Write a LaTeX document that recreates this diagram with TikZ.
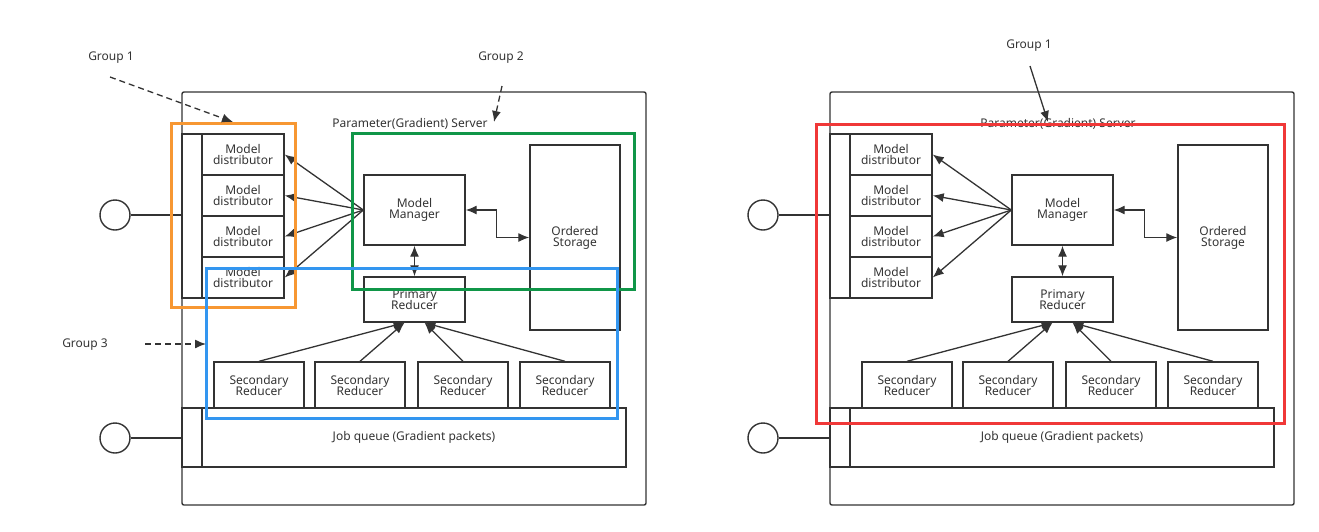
\documentclass[tikz,border=0pt]{standalone}
\usepackage{fontspec}
\setmainfont{Noto Sans}
\usetikzlibrary{arrows.meta}
\begin{document}
\begin{tikzpicture}[x=1pt,y=-1pt,
  bx/.style={draw=black!80,line width=1.4pt,inner sep=0pt,font=\fontsize{12}{14}\selectfont,align=center,text=black!80},
  ar/.style={draw=black!80,line width=1.3pt,-{Latex[length=11pt,width=9pt]}},
  dar/.style={draw=black!80,line width=1.3pt,{Latex[length=11pt,width=9pt]}-{Latex[length=11pt,width=9pt]}},
  lab/.style={font=\bfseries\fontsize{12}{14}\selectfont,text=black!80},
  grp/.style={line width=3pt},
  server/.pic={
    \node[bx,rounded corners=2pt,minimum width=464pt,minimum height=413pt] (-out) at (232,298.5) {};
    \node[bx,minimum width=20pt,minimum height=164pt] (-strip) at (10,216) {};
    \foreach \i/\yy in {1/154.5,2/195.5,3/236.5,4/277.5}
      \node[bx,minimum width=82pt,minimum height=41pt] (-d\i) at (61,\yy) {Model\\[-3pt]distributor};
    \node[bx,minimum width=20pt,minimum height=59pt] (-qs) at (10,437.5) {};
    \node[bx,minimum width=424pt,minimum height=59pt] (-q) at (232,437.5) {Job queue (Gradient packets)};
    \node[bx,circle,minimum size=30pt] (-c1) at (-67,215) {};
    \node[bx,circle,minimum size=30pt] (-c2) at (-67,438) {};
    \draw[black!80,line width=1.4pt] (-c1) -- (-strip.west |- -c1);
    \draw[black!80,line width=1.4pt] (-c2) -- (-qs.west |- -c2);
    \node[bx,minimum width=101pt,minimum height=70pt] (-mm) at (232.5,210) {Model\\[-3pt]Manager};
    \node[bx,minimum width=90pt,minimum height=185pt] (-os) at (393,237.5) {Ordered\\[-3pt]Storage};
    \node[bx,minimum width=101pt,minimum height=45pt] (-pr) at (232.5,299.5) {Primary\\[-3pt]Reducer};
    \foreach \i/\xx in {1/77,2/178,3/281,4/383}
      \node[bx,minimum width=90pt,minimum height=46pt] (-s\i) at (\xx,385) {Secondary\\[-3pt]Reducer};
    \node[font=\fontsize{12}{14}\selectfont,text=black!80] (-title) at (228,124) {Parameter(Gradient) Server};
    \foreach \i in {1,2,3,4} \draw[ar] (-mm.west) -- (-d\i.east);
    \draw[dar] (-mm.east) -- ++(31,0) |- (-os.west);
    \draw[dar] (-mm.south) -- (-pr.north);
    \draw[ar] (-s1.north) -- ([xshift=-10pt]-pr.south);
    \draw[ar] (-s2.north) -- ([xshift=-10pt]-pr.south);
    \draw[ar] (-s3.north) -- ([xshift=10pt]-pr.south);
    \draw[ar] (-s4.north) -- ([xshift=10pt]-pr.south);
  }]
\useasboundingbox (0,0) rectangle (1319,531);
\pic (L) at (182,0) {server};
\pic (R) at (830,0) {server};
% left groups
\node[lab] (g1) at (111,58) {Group 1};
\node[lab] (g2) at (501,58) {Group 2};
\node[lab] (g3) at (85,345) {Group 3};
\draw[grp,draw={rgb,255:red,247;green,151;blue,50}] (171,123) rectangle (295,307);
\draw[grp,draw={rgb,255:red,16;green,150;blue,72}] (352,133) rectangle (634,289);
\draw[grp,draw={rgb,255:red,51;green,150;blue,240}] (206,268) rectangle (617,418);
\coordinate (g1e) at (233,122);
\coordinate (g2e) at (494,122);
\coordinate (g3e) at (206,344);
\draw[ar,dashed,dash pattern=on 6pt off 4pt] (110,77) -- (g1e);
\draw[ar,dashed,dash pattern=on 6pt off 4pt] (502,86) -- (g2e);
\draw[ar,dashed,dash pattern=on 6pt off 4pt] (145,344) -- (g3e);
% right group
\node[lab] (r1) at (1029,46) {Group 1};
\draw[grp,draw={rgb,255:red,240;green,56;blue,56}] (816,124) rectangle (1284,423);
\coordinate (r1e) at (1048,122);
\draw[ar] (1030,66) -- (r1e);
\end{tikzpicture}
\end{document}
